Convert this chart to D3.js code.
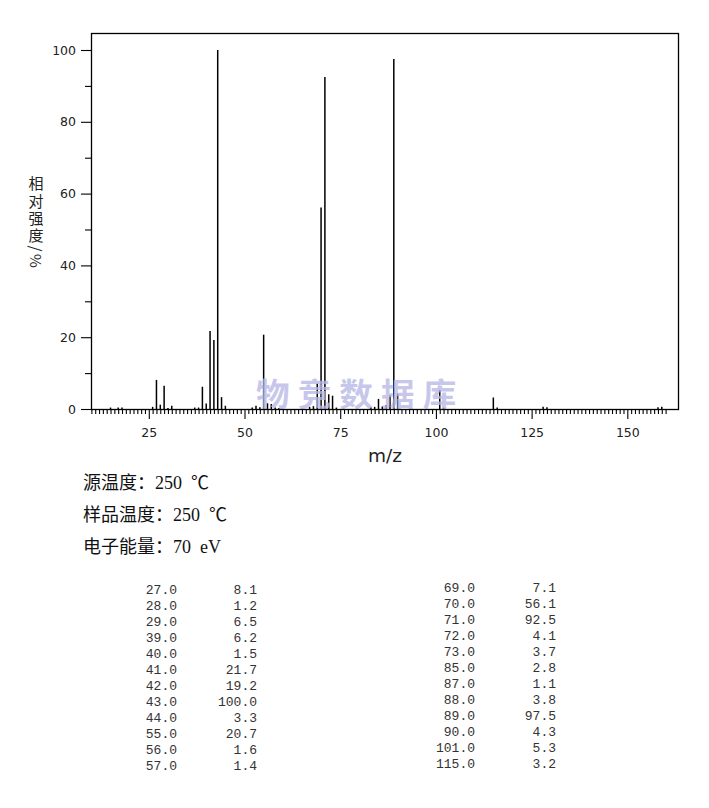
<!DOCTYPE html>
<html>
<head>
<meta charset="utf-8">
<script src="https://cdn.jsdelivr.net/npm/d3@7"></script>
<style>
  html, body { margin: 0; padding: 0; background: #fff; }
  svg { display: block; }
</style>
</head>
<body>
<script>
// ---- data ----
const tableMz  = [27,28,29,39,40,41,42,43,44,55,56,57,69,70,71,72,73,85,87,88,89,90,101,115];
const tableInt = [8.1,1.2,6.5,6.2,1.5,21.7,19.2,100.0,3.3,20.7,1.6,1.4,7.1,56.1,92.5,4.1,3.7,2.8,1.1,3.8,97.5,4.3,5.3,3.2];
// small peaks visible in the spectrum but not listed in the table
const minorMz  = [15,17,18,26,30,31,37,38,45,52,53,54,58,59,67,68,74,83,84,86,102,116,128,129,158,159];
const minorInt = [0.4,0.4,0.4,0.6,0.3,0.9,0.4,0.4,0.9,0.4,0.9,0.5,0.4,0.3,0.6,0.8,0.4,0.5,0.6,0.7,0.4,0.4,0.6,0.5,0.5,0.6];
const yMajorTicks = [0,20,40,60,80,100];
const yMinorTicks = [10,30,50,70,90];
const xMajorTicks = [25,50,75,100,125,150];
const infoLabels = ["源温度：","样品温度：","电子能量："];
const infoValues = ["250","250","70"];
const infoUnits  = ["℃","℃","eV"];
const yTitle = "相对强度/%";
const xTitle = "m/z";
const watermark = "物竞数据库";

(function () {
const W = 709, H = 808;
const svg = d3.select("body").append("svg").attr("width", W).attr("height", H);
svg.append("rect").attr("width", W).attr("height", H).attr("fill", "#fff");

const pL = 91, pR = 679, pT = 33, pB = 409;
const x = d3.scaleLinear().domain([9.9, 163.5]).range([pL, pR]);
const y = d3.scaleLinear().domain([0, 100]).range([pB, 50]);

const peaks = tableMz.map((m, i) => ({m, v: tableInt[i]}))
  .concat(minorMz.map((m, i) => ({m, v: minorInt[i]})));

// bars
svg.append("g").selectAll("line").data(peaks).join("line")
  .attr("x1", d => x(d.m)).attr("x2", d => x(d.m))
  .attr("y1", y(0)).attr("y2", d => y(d.v))
  .attr("stroke", "#000").attr("stroke-width", 1.5);

// watermark
svg.append("text")
  .attr("transform", "translate(256,406) scale(1.05,1)")
  .attr("font-family", "'Noto Sans CJK SC'")
  .attr("font-size", 32)
  .attr("font-weight", 700)
  .attr("letter-spacing", 7.7)
  .attr("fill", "#b8b8e6")
  .attr("fill-opacity", 0.78)
  .text(watermark);

// frame
svg.append("rect")
  .attr("x", pL + 0.5).attr("y", pT + 0.5)
  .attr("width", pR - pL - 1).attr("height", pB - pT)
  .attr("fill", "none").attr("stroke", "#000").attr("stroke-width", 1.3);

const axisFont = "'DejaVu Sans', Verdana, sans-serif";

// y axis
const yMaj = svg.append("g").attr("transform", `translate(${pL},0)`)
  .call(d3.axisLeft(y).tickValues(yMajorTicks).tickSize(10).tickPadding(5).tickFormat(d3.format("d")));
const yMin = svg.append("g").attr("transform", `translate(${pL},0)`)
  .call(d3.axisLeft(y).tickValues(yMinorTicks).tickSize(6).tickFormat(""));

// x axis
const xMinorTicks = d3.range(10, 161).filter(v => v % 25 !== 0);
const xMaj = svg.append("g").attr("transform", `translate(0,${pB})`)
  .call(d3.axisBottom(x).tickValues(xMajorTicks).tickSize(10).tickPadding(9).tickFormat(d3.format("d")));
const xMin = svg.append("g").attr("transform", `translate(0,${pB})`)
  .call(d3.axisBottom(x).tickValues(xMinorTicks).tickSize(5).tickFormat(""));

[yMaj, yMin, xMaj, xMin].forEach(g => {
  g.select(".domain").remove();
  g.selectAll(".tick line").attr("stroke", "#000").attr("stroke-width", 1.1);
  g.selectAll(".tick text").attr("font-family", axisFont).attr("font-size", 12.5).attr("fill", "#222");
});

// axis titles
svg.append("text").attr("x", 385).attr("y", 462)
  .attr("text-anchor", "middle").attr("font-family", axisFont)
  .attr("font-size", 18.5).attr("fill", "#222").text(xTitle);

svg.append("text")
  .attr("x", 36).attr("y", 176)
  .style("writing-mode", "vertical-rl")
  .attr("font-family", "'Noto Sans CJK SC'").attr("font-size", 15)
  .attr("letter-spacing", 2.4)
  .attr("fill", "#222")
  .text(yTitle);

// info lines
const cjkSize = 18;
infoLabels.forEach((lab, i) => {
  const by = 489 + i * 32;
  svg.append("text").attr("x", 83).attr("y", by)
    .attr("font-family", "'Noto Sans CJK SC'").attr("font-size", cjkSize).attr("fill", "#111")
    .text(lab);
  const vx = 83 + lab.length * cjkSize;
  svg.append("text").attr("x", vx).attr("y", by)
    .attr("font-family", "'Liberation Serif', serif").attr("font-size", cjkSize).attr("fill", "#111")
    .text(infoValues[i]);
  const ux = vx + infoValues[i].length * cjkSize / 2 + cjkSize / 2;
  svg.append("text").attr("x", ux).attr("y", by)
    .attr("font-family", infoUnits[i] === "℃" ? "'Noto Sans CJK SC'" : "'Liberation Serif', serif")
    .attr("font-size", cjkSize).attr("fill", "#111")
    .text(infoUnits[i]);
});

// peak table
const rows = tableMz.map((m, i) => ({m, v: tableInt[i], i}));
const half = 12;
const cols = [
  {mzX: 177, vX: 257, y0: 594},
  {mzX: 475, vX: 556, y0: 591.5}
];
const tbl = svg.append("g").attr("font-family", "'Liberation Mono', monospace")
  .attr("font-size", 13).attr("fill", "#333").attr("text-anchor", "end");
rows.forEach(r => {
  const c = cols[r.i < half ? 0 : 1];
  const yy = c.y0 + (r.i % half) * 16;
  tbl.append("text").attr("x", c.mzX).attr("y", yy).text(r.m.toFixed(1));
  tbl.append("text").attr("x", c.vX).attr("y", yy).text(r.v.toFixed(1));
});
})();
</script>
</body>
</html>
